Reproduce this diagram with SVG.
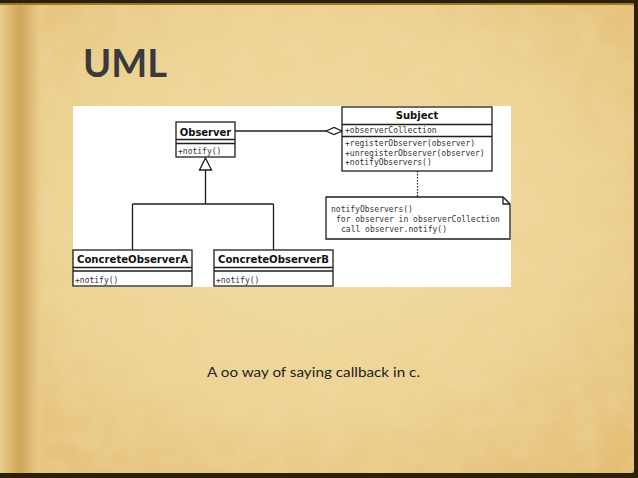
<svg xmlns="http://www.w3.org/2000/svg" width="638" height="478" viewBox="0 0 638 478">
<defs>
<radialGradient id="paper" cx="0.5" cy="0.45" r="0.75">
<stop offset="0" stop-color="#F2DFA6"/>
<stop offset="0.55" stop-color="#EDD394"/>
<stop offset="1" stop-color="#E3BC72"/>
</radialGradient>
<linearGradient id="curl" x1="0" y1="0" x2="1" y2="0">
<stop offset="0" stop-color="#E9CF8E"/>
<stop offset="0.18" stop-color="#E0BC74"/>
<stop offset="0.45" stop-color="#D0A65A"/>
<stop offset="0.75" stop-color="#E2C07C"/>
<stop offset="1" stop-color="#EDD394" stop-opacity="0"/>
</linearGradient>
<filter id="grain" x="0" y="0" width="100%" height="100%">
<feTurbulence type="fractalNoise" baseFrequency="0.035" numOctaves="3" seed="4" result="n"/>
<feColorMatrix type="matrix" values="0 0 0 0 0.88  0 0 0 0 0.7  0 0 0 0 0.38  0 0 0 -1.2 0.75" in="n"/>
</filter>
<style>
.box{fill:#fff;stroke:#1e1e1e;stroke-width:1.3}
.ln{fill:none;stroke:#1e1e1e;stroke-width:1.3}
.nm{font-family:"DejaVu Sans",sans-serif;font-weight:bold;font-size:10px;fill:#111;text-anchor:middle}
.mt{font-family:"DejaVu Sans Mono",monospace;font-size:8px;fill:#333}
</style>
</defs>
<rect x="0" y="0" width="638" height="478" fill="#2c1f0c"/>
<rect x="0" y="4" width="634" height="469" rx="3" fill="url(#paper)"/>
<rect x="0" y="4" width="634" height="469" rx="3" filter="url(#grain)" opacity="0.6"/>
<rect x="0" y="4" width="45" height="469" fill="url(#curl)"/>
<rect x="0" y="3" width="634" height="2" fill="#9C7A22"/>
<text x="83" y="77" font-family="Lato, 'Open Sans', sans-serif" font-weight="bold" font-size="38" fill="#3a3a3a" textLength="84" lengthAdjust="spacingAndGlyphs">UML</text>
<rect x="73" y="106" width="438" height="181" fill="#fff"/>
<g id="connectors">
<path class="ln" d="M235,131 H326"/>
<path d="M326,131 L334,127.5 L342,131 L334,134.5 Z" fill="#fff" stroke="#1e1e1e" stroke-width="1.3"/>
<path class="ln" d="M205.5,170 V204 M132.5,204 H273.5 M132.5,204 V250 M273.5,204 V250"/>
<path d="M205.5,158 L211.5,170 L199.5,170 Z" fill="#fff" stroke="#1e1e1e" stroke-width="1.3"/>
<path d="M417.5,171 V197" stroke="#1e1e1e" stroke-width="1.2" stroke-dasharray="1.5 1.5"/>
</g>
<g id="observer">
<rect class="box" x="176" y="122" width="59" height="35"/>
<path class="ln" d="M176,139.5 H235 M176,143.5 H235"/>
<text class="nm" x="205.5" y="135.5">Observer</text>
<text class="mt" x="178" y="154">+notify()</text>
</g>
<g id="subject">
<rect class="box" x="342" y="107" width="150" height="64"/>
<path class="ln" d="M342,124.5 H492 M342,136.5 H492"/>
<text class="nm" x="417" y="118.5">Subject</text>
<text class="mt" x="345" y="133">+observerCollection</text>
<text class="mt" x="345" y="146">+registerObserver(observer)</text>
<text class="mt" x="345" y="155.5">+unregisterObserver(observer)</text>
<text class="mt" x="345" y="165">+notifyObservers()</text>
</g>
<g id="concreteA">
<rect class="box" x="73" y="250" width="119" height="36"/>
<path class="ln" d="M73,267.5 H192 M73,271 H192"/>
<text class="nm" x="132.5" y="263" textLength="111" lengthAdjust="spacingAndGlyphs">ConcreteObserverA</text>
<text class="mt" x="75" y="283">+notify()</text>
</g>
<g id="concreteB">
<rect class="box" x="214" y="250" width="119" height="36"/>
<path class="ln" d="M214,267.5 H333 M214,271 H333"/>
<text class="nm" x="273.5" y="263" textLength="111" lengthAdjust="spacingAndGlyphs">ConcreteObserverB</text>
<text class="mt" x="216" y="283">+notify()</text>
</g>
<g id="note">
<path class="box" d="M326,197 H503 L510,204 V239 H326 Z"/>
<path class="ln" d="M503,197 V204 H510"/>
<text class="mt" x="331" y="212">notifyObservers()</text>
<text class="mt" x="336" y="222">for observer in observerCollection</text>
<text class="mt" x="341" y="232">call observer.notify()</text>
</g>
<text x="207" y="377" font-family="Lato, 'Open Sans', sans-serif" font-size="14" fill="#1e1e1e" textLength="213" lengthAdjust="spacingAndGlyphs">A oo way of saying callback in c.</text>
</svg>
